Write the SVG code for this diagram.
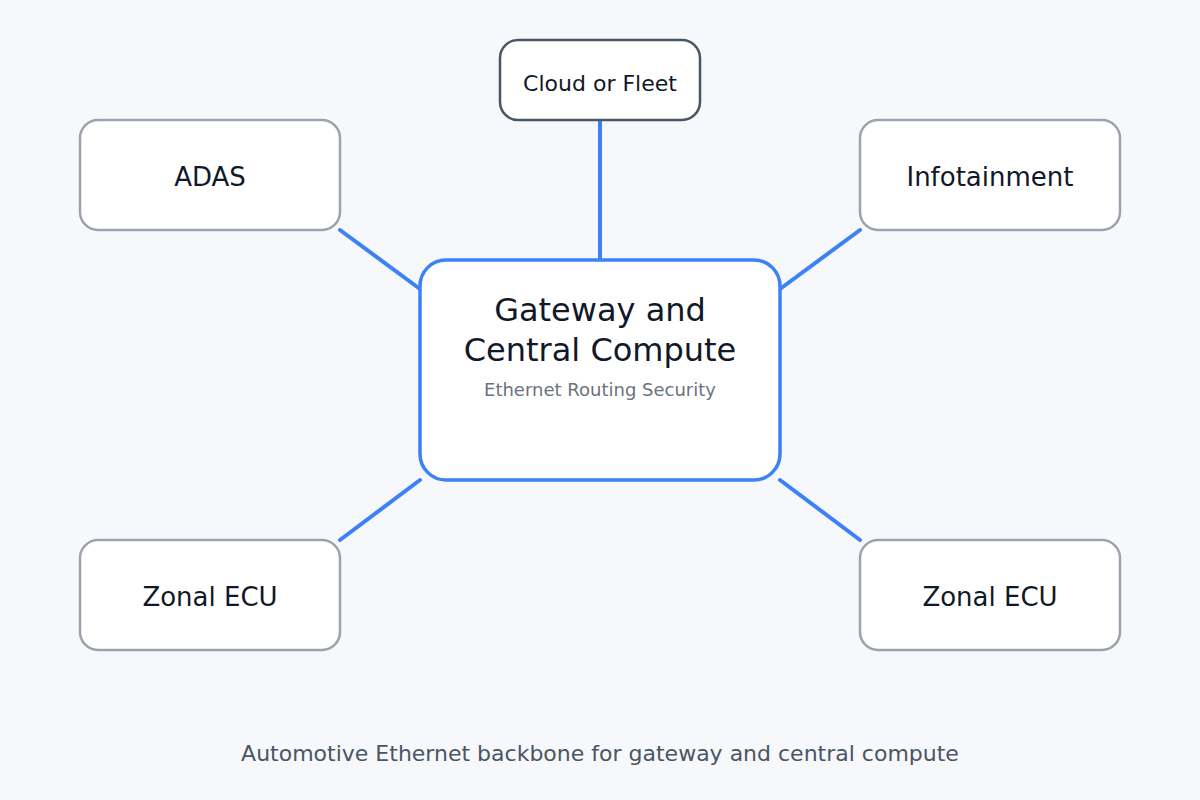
<svg xmlns="http://www.w3.org/2000/svg" width="1200" height="800" viewBox="0 0 1200 800">
<style>
.bg{fill:#f6f8fb}
.node{fill:#ffffff;stroke:#9ca3af;stroke-width:2.5}
.dark{fill:#ffffff;stroke:#4b5563;stroke-width:2.5}
.hub{fill:#ffffff;stroke:#3b82f6;stroke-width:3.5}
.edge{stroke:#3b82f6;stroke-width:4;stroke-linecap:round;fill:none}
text{font-family:"DejaVu Sans",sans-serif;text-anchor:middle;fill:#111827}
.lbl{font-size:26px}
.sm{font-size:22px}
.title{font-size:32px}
.sub{font-size:18px;fill:#6b7280}
.cap{font-size:22px;fill:#4b5563}
</style>
<rect class="bg" x="0" y="0" width="1200" height="800"/>
<g id="connectors">
<line class="edge" x1="340" y1="230" x2="420" y2="289"/>
<line class="edge" x1="600" y1="120" x2="600" y2="260"/>
<line class="edge" x1="860" y1="230" x2="780" y2="289"/>
<line class="edge" x1="420" y1="480" x2="340" y2="540"/>
<line class="edge" x1="780" y1="480" x2="860" y2="540"/>
</g>
<g id="cloud">
<rect class="dark" x="500" y="40" width="200" height="80" rx="18"/>
<text class="sm" x="600" y="91">Cloud or Fleet</text>
</g>
<g id="adas">
<rect class="node" x="80" y="120" width="260" height="110" rx="18"/>
<text class="lbl" x="210" y="186">ADAS</text>
</g>
<g id="infotainment">
<rect class="node" x="860" y="120" width="260" height="110" rx="18"/>
<text class="lbl" x="990" y="186">Infotainment</text>
</g>
<g id="zonal-left">
<rect class="node" x="80" y="540" width="260" height="110" rx="18"/>
<text class="lbl" x="210" y="606">Zonal ECU</text>
</g>
<g id="zonal-right">
<rect class="node" x="860" y="540" width="260" height="110" rx="18"/>
<text class="lbl" x="990" y="606">Zonal ECU</text>
</g>
<g id="gateway">
<rect class="hub" x="420" y="260" width="360" height="220" rx="26"/>
<text class="title" x="600" y="321">Gateway and</text>
<text class="title" x="600" y="361">Central Compute</text>
<text class="sub" x="600" y="396">Ethernet Routing Security</text>
</g>
<text class="cap" x="600" y="761">Automotive Ethernet backbone for gateway and central compute</text>
</svg>
